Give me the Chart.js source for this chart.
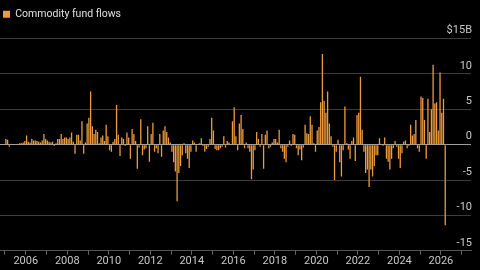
<!DOCTYPE html>
<html lang="en">
<head>
    <meta charset="UTF-8">
    <title>Commodity fund flows</title>
    <script src="https://cdn.jsdelivr.net/npm/chart.js@4.4.0/dist/chart.umd.min.js"></script>
    <style>
        html, body { margin: 0; padding: 0; background: #000; }
        #wrap { width: 480px; height: 270px; }
    </style>
</head>
<body>
    <div id="wrap"><canvas id="flowsChart"></canvas></div>

    <script>
        // monthly flows, $ billions, one array per year (Jan..Dec)
        const y2005 = [0.8, 0.7, -0.3, 0, 0, 0.1, 0.1, 0.1, 0.2, 0.2, 0.3, 0.5];
        const y2006 = [1.3, 0.4, 0.3, 0.8, 0.6, 0.6, 0.5, 0.4, 0.3, 0.6, 1.5, 0.8];
        const y2007 = [0.6, 0.4, 0.3, 0.4, -0.2, 0.2, 0.8, 0.8, 1.5, 0.8, 1.0, 1.0];
        const y2008 = [0.8, 1.0, 1.7, 0.4, -1.3, 1.4, 1.4, 0.6, 3.3, -1.3, 0.3, 3.0];
        const y2009 = [3.8, 7.5, 2.6, 1.5, 2.1, 1.8, 0.2, 1.0, 1.3, 0.5, 2.8, 1.2];
        const y2010 = [-0.8, -1.0, 0.4, 0.8, 5.6, 1.4, -1.6, 1.0, 0.8, -0.2, 1.7, 1.0];
        const y2011 = [-2.0, 2.2, 1.5, 0.5, -3.4, -0.4, 3.6, -1.5, -0.7, -0.5, 2.6, -2.4];
        const y2012 = [1.5, 3.1, -1.0, -0.5, -1.2, 1.5, -1.7, 2.0, 2.6, 1.8, 1.0, 0.3];
        const y2013 = [-1.0, -2.5, -3.8, -8.0, -4.0, -3.0, -1.5, 0.2, -1.2, -2.0, -3.3, -1.0];
        const y2014 = [0.6, 0.3, -1.0, 0.1, 0.2, 0.9, -0.2, -1.0, -0.6, -0.3, 0.8, 3.8];
        const y2015 = [2.0, -0.6, -0.8, -0.8, -0.5, -0.3, 1.2, -0.4, 0.5, 0.3, 0.1, 3.3];
        const y2016 = [5.3, 1.2, -0.8, 3.0, 4.2, 2.2, -0.5, 0.3, -0.5, -1.0, -4.9, -3.5];
        const y2017 = [-0.8, 1.8, 0.8, -0.3, 1.5, -3.4, 1.4, 2.0, -0.5, -0.3, 0.3, 0.8];
        const y2018 = [0.8, 0.3, 2.1, -0.5, -1.0, -2.0, -2.5, -0.3, 0.6, -0.2, 1.5, 1.4];
        const y2019 = [-0.5, -1.5, -0.7, -2.2, -0.4, 2.8, 1.6, 1.5, 4.0, 2.8, 0.2, -1.0];
        const y2020 = [2.0, 2.5, 6.0, 12.8, 6.2, 4.5, 7.5, 3.0, 1.2, -0.3, -5.0, -1.0];
        const y2021 = [0.7, -2.5, -4.5, -0.8, 5.4, 0.2, -0.7, -2.0, 0.5, 1.0, -2.3, 4.2];
        const y2022 = [4.5, 9.6, 2.1, -1.0, -4.0, -3.5, -6.0, -3.5, -4.5, -3.0, -1.5, -1.5];
        const y2023 = [0.9, 0.1, -0.2, 1.0, -2.0, -2.4, -3.5, -2.0, -0.5, 0.5, -0.3, -2.0];
        const y2024 = [-3.3, -1.2, 0.4, 0.6, -0.5, -0.2, 2.8, 1.3, 1.5, 3.5, -0.5, -1.0];
        const y2025 = [6.8, 6.6, 3.5, -2.0, 6.5, 1.8, 5.0, 11.3, 5.8, 6.0, 2.0, 10.2];
        const y2026 = [4.5, 6.5, -11.4];

        const firstYear = 2005;
        const yearTicks = [2006, 2008, 2010, 2012, 2014, 2016, 2018, 2020, 2022, 2024, 2026];
        const valueTicks = [-15, -10, -5, 0, 5, 10, 15];

        const allYears = [y2005, y2006, y2007, y2008, y2009, y2010, y2011, y2012, y2013, y2014, y2015,
            y2016, y2017, y2018, y2019, y2020, y2021, y2022, y2023, y2024, y2025, y2026];

        // bar centre sits in the middle of its month
        const points = [];
        allYears.forEach((months, yi) => {
            months.forEach((v, m) => {
                points.push({ x: firstYear + yi + m / 12 + 1 / 24, y: v });
            });
        });

        // extra room between the legend and the plot
        const legendGap = {
            id: 'legendGap',
            beforeInit(chart) {
                const fit = chart.legend.fit;
                chart.legend.fit = function () {
                    fit.bind(chart.legend)();
                    this.height += 9;
                };
            }
        };

        const ctx = document.getElementById('flowsChart').getContext('2d');
        const flowsChart = new Chart(ctx, {
            type: 'bar',
            data: {
                datasets: [{
                    label: 'Commodity fund flows',
                    data: points,
                    backgroundColor: '#ec9c3c',
                    borderWidth: 0,
                    barPercentage: 0.75,
                    categoryPercentage: 1.0
                }]
            },
            options: {
                responsive: true,
                maintainAspectRatio: false,
                animation: false,
                layout: { padding: { left: 0, right: 7, top: 6, bottom: 2 } },
                plugins: {
                    tooltip: { enabled: false },
                    legend: {
                        position: 'top',
                        align: 'start',
                        labels: {
                            boxWidth: 7,
                            boxHeight: 7,
                            padding: 3,
                            color: '#e0e0e0',
                            font: { family: 'Roboto', size: 10.5 }
                        }
                    }
                },
                scales: {
                    x: {
                        type: 'linear',
                        offset: false,
                        min: 2004.76,
                        max: 2027.45,
                        grid: {
                            offset: false,
                            drawOnChartArea: false,
                            drawTicks: true,
                            tickLength: 4,
                            color: '#666'
                        },
                        border: { display: true, color: '#555' },
                        ticks: {
                            stepSize: 1,
                            autoSkip: false,
                            includeBounds: false,
                            maxRotation: 0,
                            padding: 0,
                            color: '#c8c8c8',
                            font: { family: 'Roboto', size: 11 },
                            callback: (v) => yearTicks.includes(v) ? String(v) : ''
                        }
                    },
                    y: {
                        position: 'right',
                        min: -15,
                        max: 15,
                        afterBuildTicks: (axis) => {
                            axis.ticks = valueTicks.map(v => ({ value: v }));
                        },
                        grid: {
                            drawTicks: false,
                            color: (c) => c.tick && c.tick.value === 0 ? '#a0a0a0' : '#3c3c3c'
                        },
                        border: { display: false },
                        ticks: {
                            mirror: true,
                            padding: 1,
                            labelOffset: -8,
                            color: '#c8c8c8',
                            font: { family: 'Roboto', size: 11 },
                            callback: (v) => v === 15 ? '$15B' : String(v)
                        }
                    }
                }
            },
            plugins: [legendGap]
        });
    </script>
</body>
</html>
